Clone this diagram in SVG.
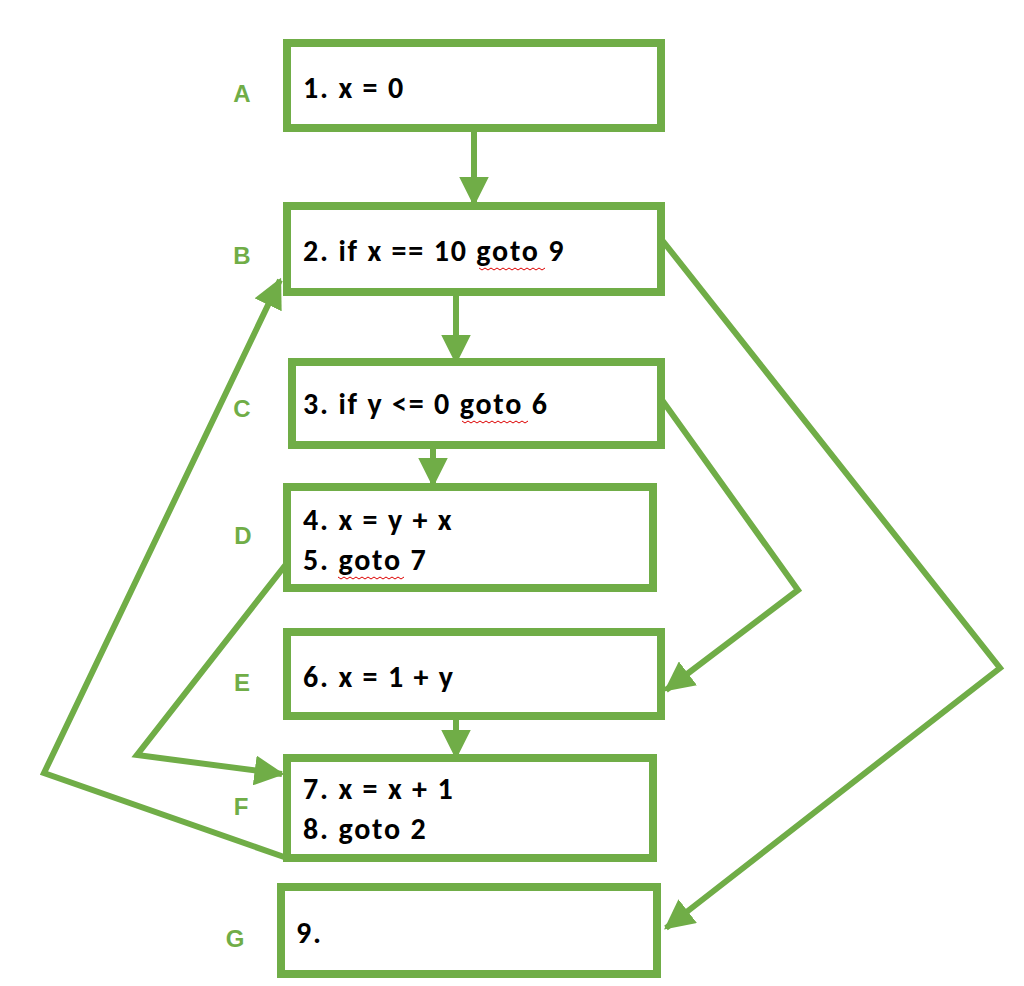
<svg xmlns="http://www.w3.org/2000/svg" width="1024" height="986" viewBox="0 0 1024 986">
<style>
.box{fill:#fff;stroke:#70AD47;stroke-width:8}
.lbl{font-family:"Liberation Sans",Arial,sans-serif;font-weight:bold;font-size:24px;fill:#70AD47;text-anchor:middle}
.t{font-family:Carlito,"Liberation Sans",Arial,sans-serif;font-weight:bold;font-size:30px;letter-spacing:1.8px;fill:#000}
.c{fill:none;stroke:#70AD47;stroke-width:6;stroke-linejoin:miter}
.sq{fill:none;stroke:#d00;stroke-width:1}
</style>
<defs>
<marker id="ah" markerUnits="userSpaceOnUse" markerWidth="30" markerHeight="30" viewBox="0 0 24 24" refX="22" refY="12" orient="auto">
<path d="M0,0 L24,12 L0,24 z" fill="#70AD47"/>
</marker>
</defs>
<rect width="1024" height="986" fill="#fff"/>
<g id="connectors">
<path class="c" d="M474,128 V204" marker-end="url(#ah)"/>
<path class="c" d="M456,292 V362" marker-end="url(#ah)"/>
<path class="c" d="M433,445 V485" marker-end="url(#ah)"/>
<path class="c" d="M456,716 V757" marker-end="url(#ah)"/>
<path class="c" d="M662,240 L1000,668 L666,928" marker-end="url(#ah)"/>
<path class="c" d="M662,400 L798,590 L666,690" marker-end="url(#ah)"/>
<path class="c" d="M287,563 L137,755 L282,774" marker-end="url(#ah)"/>
<path class="c" d="M287,858 L44,773 L280,280" marker-end="url(#ah)"/>
</g>
<g id="A"><rect class="box" x="287" y="43" width="374" height="85"/><text class="lbl" x="242" y="102">A</text><text class="t" x="303" y="98">1. x = 0</text></g>
<g id="B"><rect class="box" x="287" y="206" width="374" height="86"/><text class="lbl" x="242" y="264">B</text><text class="t" x="303" y="261">2. if x == 10 goto 9</text><path class="sq" d="M479,268 l3,2 3,-2 3,2 3,-2 3,2 3,-2 3,2 3,-2 3,2 3,-2 3,2 3,-2 3,2 3,-2 3,2 3,-2 3,2 3,-2 3,2 3,-2 3,2 3,-2"/></g>
<g id="C"><rect class="box" x="292" y="362" width="369" height="83"/><text class="lbl" x="242" y="417">C</text><text class="t" x="303" y="414">3. if y &lt;= 0 goto 6</text><path class="sq" d="M462,421 l3,2 3,-2 3,2 3,-2 3,2 3,-2 3,2 3,-2 3,2 3,-2 3,2 3,-2 3,2 3,-2 3,2 3,-2 3,2 3,-2 3,2 3,-2 3,2 3,-2"/></g>
<g id="D"><rect class="box" x="287" y="487" width="366" height="101"/><text class="lbl" x="243" y="544">D</text><text class="t" x="303" y="530">4. x = y + x</text><text class="t" x="303" y="570">5. goto 7</text><path class="sq" d="M338,577 l3,2 3,-2 3,2 3,-2 3,2 3,-2 3,2 3,-2 3,2 3,-2 3,2 3,-2 3,2 3,-2 3,2 3,-2 3,2 3,-2 3,2 3,-2 3,2 3,-2"/></g>
<g id="E"><rect class="box" x="287" y="632" width="374" height="84"/><text class="lbl" x="242" y="691">E</text><text class="t" x="303" y="687">6. x = 1 + y</text></g>
<g id="F"><rect class="box" x="287" y="758" width="366" height="100"/><text class="lbl" x="241" y="815">F</text><text class="t" x="303" y="799">7. x = x + 1</text><text class="t" x="303" y="839">8. goto 2</text></g>
<g id="G"><rect class="box" x="281" y="887" width="376" height="87"/><text class="lbl" x="235" y="947">G</text><text class="t" x="296" y="943">9.</text></g>
</svg>
